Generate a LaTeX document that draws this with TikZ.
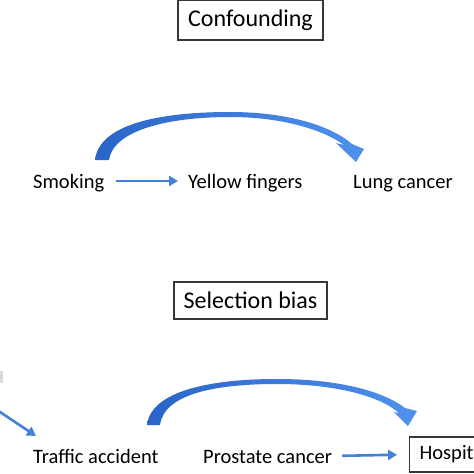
\documentclass[tikz,border=0pt]{standalone}
\usepackage{fontspec}
\setmainfont{Carlito}
\usetikzlibrary{arrows.meta}
\definecolor{thinblue}{RGB}{66,128,218}
\definecolor{darkblue}{RGB}{42,100,200}
\definecolor{lightblue}{RGB}{80,145,238}
\definecolor{boxgray}{RGB}{55,55,55}
\tikzset{
  lbl/.style={anchor=base west, inner sep=0pt, text height=14pt, text depth=0pt, font=\fontsize{20.5}{24}\selectfont},
  titlebox/.style={draw=boxgray, line width=1.3pt, inner sep=0pt, font=\fontsize{24}{28}\selectfont},
  thinarrow/.style={draw=thinblue, line width=2.6pt, -{Triangle[length=9pt,width=10pt]}},
  bigarrow/.style={left color=darkblue, right color=lightblue, draw=none}
}
\begin{document}
\begin{tikzpicture}[x=1pt,y=-1pt]
\clip (0,0) rectangle (474,474);
\fill[white] (0,0) rectangle (474,474);
% titles
\node[titlebox, minimum width=145pt, minimum height=40pt] (conf) at (250.5,20) {Confounding};
\node[titlebox, minimum width=153pt, minimum height=37pt] (sel) at (250.5,300.5) {Selection bias};
% labels top
\node[lbl] (smoking) at (33,188) {Smoking};
\node[lbl] (yellow) at (188,188) {Yellow fingers};
\node[lbl] (lung) at (353,188) {Lung cancer};
\draw[thinarrow, shorten <=12pt, shorten >=10pt] (smoking.east) -- (yellow.west);
% curved arrow top
\path[bigarrow] (95,160) .. controls (99,124) and (160,112) .. (230,112)
  .. controls (290,112) and (333,127) .. (352,144)
  -- (364,149) -- (356,162) -- (336,143) -- (344,145)
  .. controls (325,131) and (285,117) .. (230,117)
  .. controls (166,117) and (113,131) .. (109,160) -- cycle;
% labels bottom
\node[lbl] (traffic) at (33,463) {Traffic accident};
\node[lbl] (prostate) at (203,463) {Prostate cancer};
\node[draw=boxgray, line width=1.3pt, anchor=west, inner xsep=10pt, inner ysep=0pt,
  minimum height=35pt, text width=70pt, align=left, font=\fontsize{20.5}{24}\selectfont] (hosp) at (409,454.5) {Hospit};
\draw[thinarrow, shorten <=10pt, shorten >=12pt] (prostate.east) -- (hosp.west);
% left clipped element and arrow
\fill[gray!30] (-2,371) rectangle (3,383);
\coordinate (lf) at (-3,410);
\coordinate (lt) at (36,436);
\draw[thinarrow] (lf) -- (lt);
% curved arrow bottom
\path[bigarrow] (147,425) .. controls (151,391) and (210,379) .. (277,379)
  .. controls (338,379) and (383,391) .. (405,408)
  -- (417,411) -- (408,426) -- (394,412) -- (399,413)
  .. controls (380,396) and (335,384) .. (277,384)
  .. controls (215,384) and (164,394) .. (160,425) -- cycle;
\end{tikzpicture}
\end{document}
